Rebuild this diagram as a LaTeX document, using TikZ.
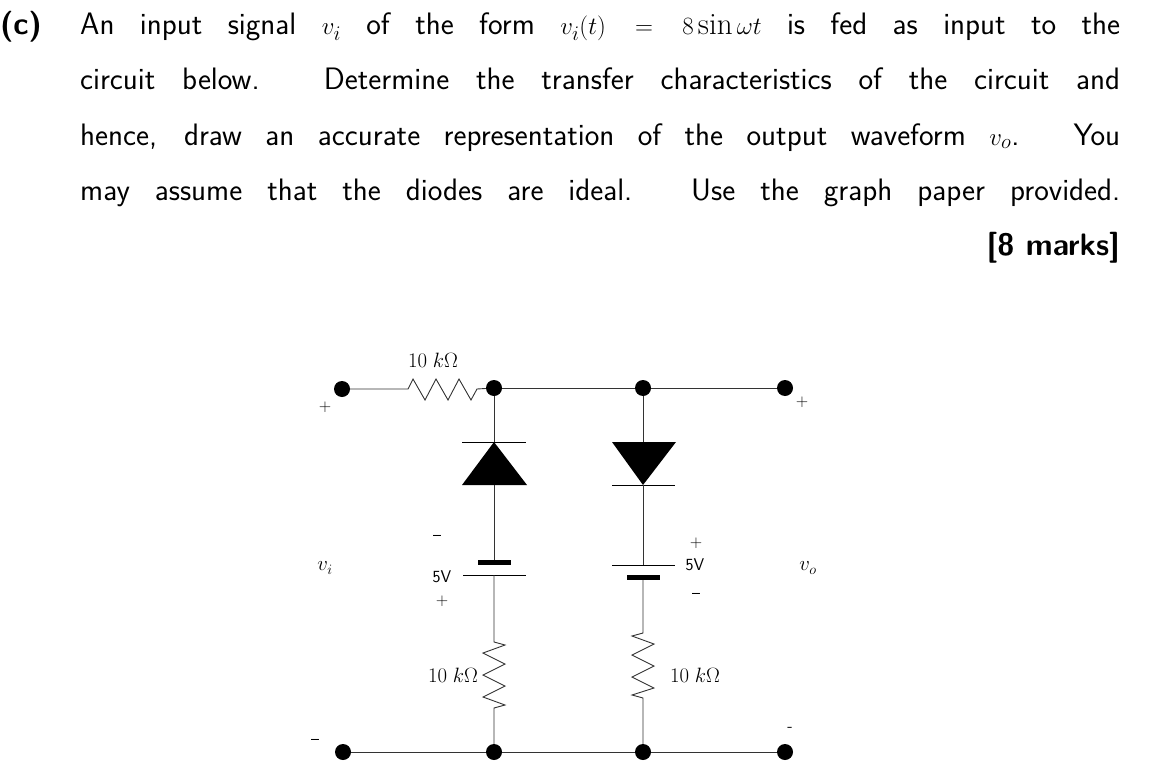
\documentclass[tikz,border=0pt]{standalone}
\usepackage{fontspec}
\usepackage{amsmath}
\begin{document}
\begin{tikzpicture}[x=1pt,y=-1pt,
  wire/.style={draw=black!80,line width=0.9pt},
  dot/.style={circle,fill=black,inner sep=0pt,minimum size=16pt},
  lbl/.style={inner sep=0pt,font=\fontsize{20}{24}\selectfont},
  sl/.style={inner sep=0pt,font=\sffamily\fontsize{17}{20}\selectfont},
  txt/.style={inner sep=0pt,anchor=base west,font=\sffamily\fontsize{31}{34}\selectfont}]
\useasboundingbox (0,0) rectangle (1166,773);
% text
\node[txt] (t1) at (0,35) {\textbf{(c)}};
\node[txt] (l1) at (80,35) {\makebox[1040pt][s]{An input signal $v_i$ of the form $v_i(t) = 8\sin\omega t$ is fed as input to the}};
\node[txt] (l2) at (80,90) {\makebox[1040pt][s]{circuit below. Determine the transfer characteristics of the circuit and}};
\node[txt] (l3) at (80,145) {\makebox[1040pt][s]{hence, draw an accurate representation of the output waveform $v_o$. You}};
\node[txt] (l4) at (80,200) {\makebox[1040pt][s]{may assume that the diodes are ideal. Use the graph paper provided.}};
\node[txt,anchor=base east] (mk) at (1120,255) {\textbf{[8 marks]}};
% nodes
\node[dot] (inp) at (342,389) {};
\node[dot] (a) at (494,388) {};
\node[dot] (b) at (643,388) {};
\node[dot] (out) at (785,388) {};
\node[dot] (gl) at (343,752) {};
\node[dot] (ga) at (494,752) {};
\node[dot] (gb) at (643,752) {};
\node[dot] (gr) at (785,752) {};
\coordinate (r1s) at (408,389);
\coordinate (r1e) at (477,389);
% top resistor
\draw[wire] (inp) -- (r1s) -- (413,379) -- (425,400) -- (436,379) -- (448,400) -- (459,379) -- (471,400) -- (r1e) -- (a);
\draw[wire] (a) -- (b) -- (out);
\draw[wire] (gl) -- (ga) -- (gb) -- (gr);
% left branch
\coordinate (d1) at (494,442);
\coordinate (d1b) at (494,485);
\draw[wire] (a) -- (d1);
\draw[line width=0.8pt] (462,442) -- (526,442);
\fill (d1) -- (462,485) -- (527,485) -- cycle;
\draw[wire] (d1b) -- (494,562);
\fill (478,560) rectangle (511,565);
\draw[line width=0.8pt] (463,575) -- (526,575);
\coordinate (r2s) at (494,642);
\draw[wire] (494,575) -- (r2s) -- (505,645) -- (483,653) -- (505,664) -- (483,675) -- (505,686) -- (483,697) -- (505,705) -- (494,708) -- (ga);
% right branch
\coordinate (d2) at (643,485);
\draw[wire] (b) -- (643,442);
\fill (612,442) -- (676,442) -- (d2) -- cycle;
\draw[line width=0.8pt] (612,485) -- (675,485);
\draw[wire] (d2) -- (643,565);
\draw[line width=0.8pt] (612,565) -- (675,565);
\fill (627,575) rectangle (660,580);
\draw[wire] (643,580) -- (643,633) -- (632,636) -- (654,644) -- (632,655) -- (654,666) -- (632,677) -- (654,688) -- (632,695) -- (643,698) -- (gb);
% labels
\node[lbl] (rl1) at (433,360) {$10\;k\Omega$};
\node[lbl] (rl2) at (453,675) {$10\;k\Omega$};
\node[lbl] (rl3) at (695,675) {$10\;k\Omega$};
\node[sl] (p1) at (325,407) {+};
\node[lbl] (vi) at (325,568) {$v_i$};
\node[sl] (m1) at (315,742) {\textendash};
\node[sl] (bm1) at (437,538) {\textendash};
\node[sl] (b5a) at (442,577) {5V};
\node[sl] (bp1) at (442,601) {+};
\node[sl] (bp2) at (696,543) {+};
\node[sl] (b5b) at (695,565) {5V};
\node[sl] (bm2) at (696,596) {\textendash};
\node[sl] (p2) at (802,402) {+};
\node[lbl] (vo) at (808,568) {$v_o$};
\node[sl] (m2) at (790,729) {-};
\end{tikzpicture}
\end{document}
